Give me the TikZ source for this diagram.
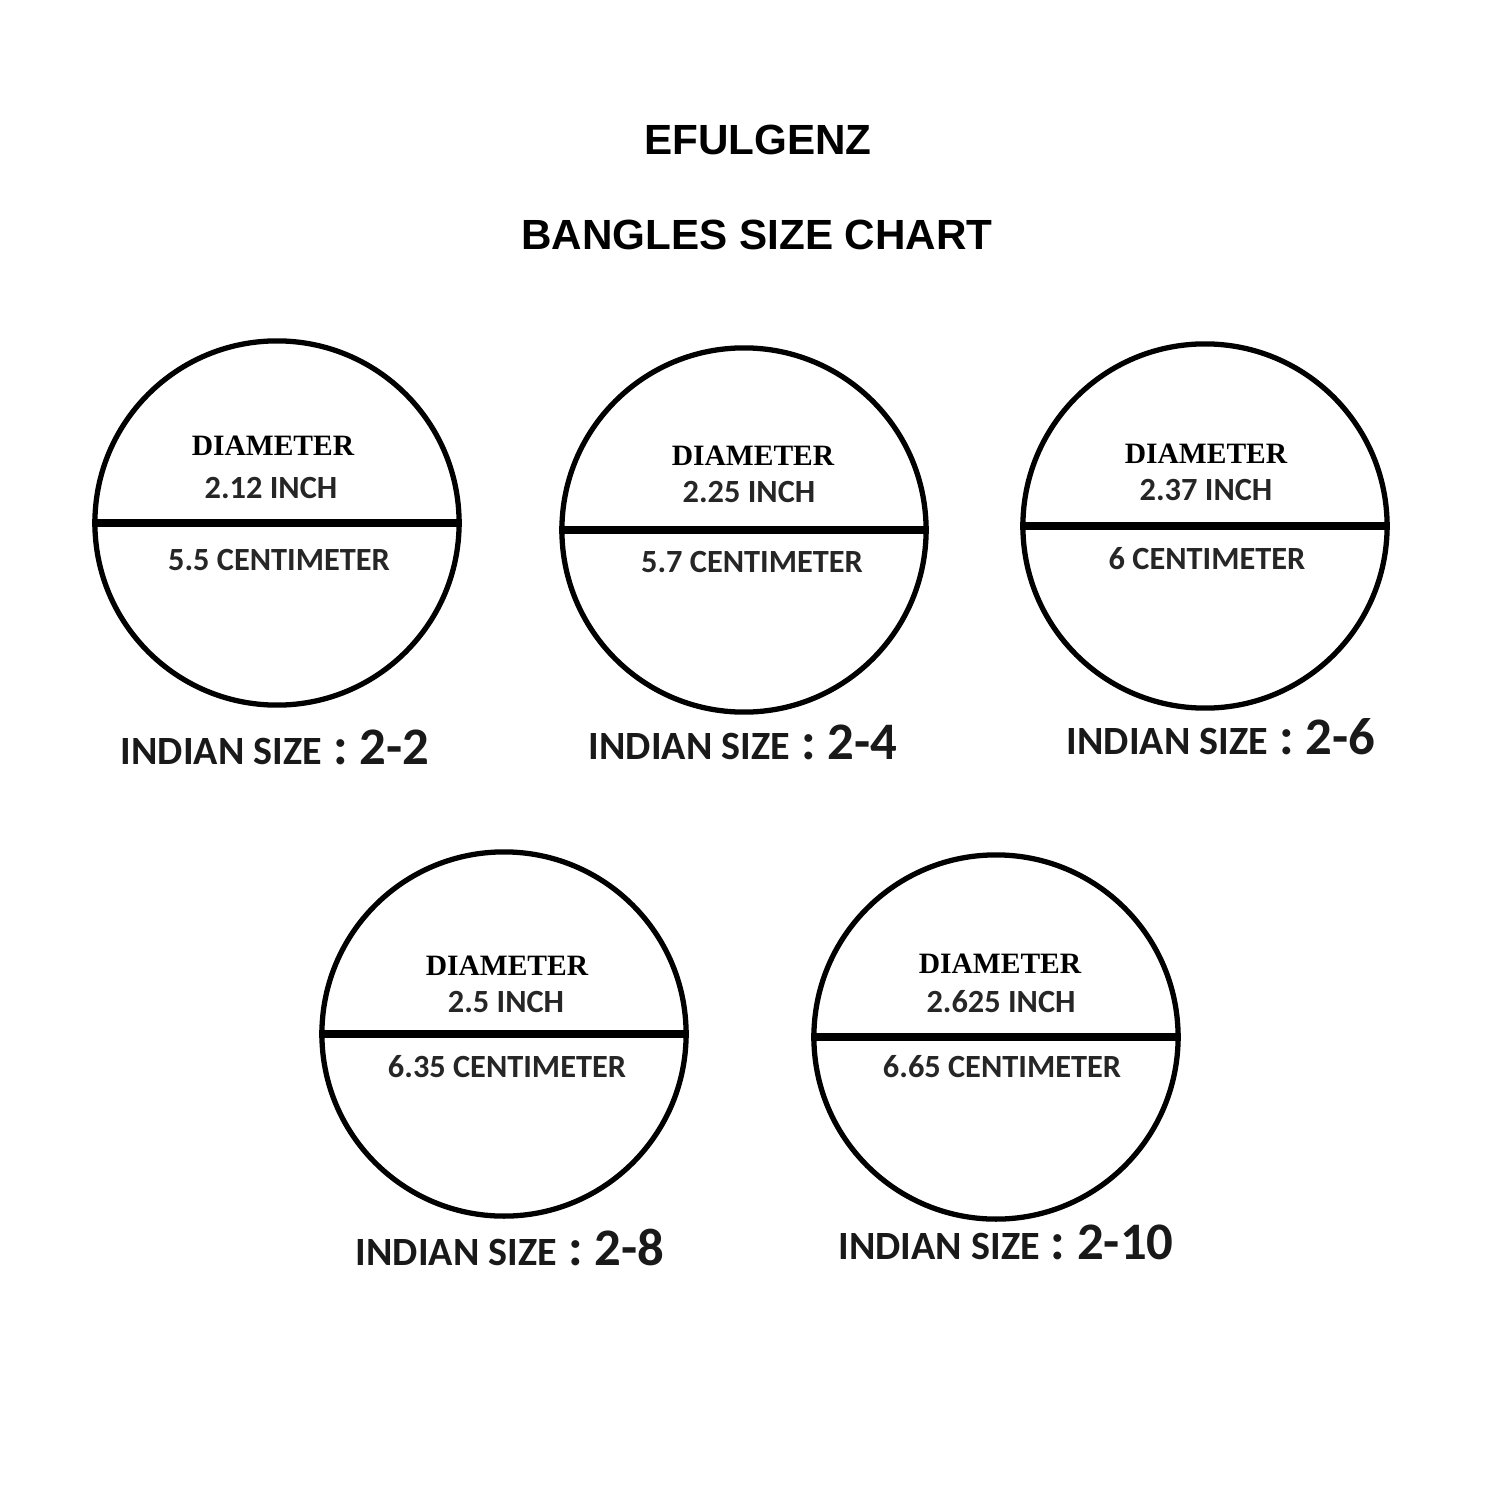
\documentclass[tikz,border=0pt]{standalone}
\usepackage{fontspec}
\setmainfont{Carlito}
\newfontfamily\headfont{Liberation Sans}
\newfontfamily\diafont{Liberation Serif}

\tikzset{
  bangle/.style={draw=black, line width=1.5pt, circle, minimum size=3.64cm, inner sep=0pt},
  divider/.style={draw=black, line width=2pt},
  headtext/.style={font=\headfont\bfseries\fontsize{12}{14}\selectfont},
  diatext/.style={font=\diafont\bfseries\fontsize{8.4}{10}\selectfont},
  valtext/.style={font=\bfseries\fontsize{9.2}{11}\selectfont, text=black!85},
  sizetext/.style={font=\bfseries, text=black!90}
}
\newcommand{\sizelabel}[1]{{\fontsize{11.4}{13}\selectfont INDIAN SIZE}\hspace{1.1mm}{\fontsize{15}{18}\selectfont : #1}}

\begin{document}
\begin{tikzpicture}[x=0.01cm, y=-0.01cm]
    \useasboundingbox (0,0) rectangle (1500,1500);

    \node[headtext] (brand) at (758,140) {EFULGENZ};
    \node[headtext] (title) at (757,235) {BANGLES SIZE CHART};

    % top row
    \node[bangle] (c1) at (277,523) {};
    \draw[divider] (c1.west) -- (c1.east);
    \node[diatext] (d1) at (273,446) {DIAMETER};
    \node[valtext] (i1) at (271,488) {2.12 INCH};
    \node[valtext] (m1) at (279,560) {5.5 CENTIMETER};
    \node[sizetext] (s1) at (275,747) {\sizelabel{2-2}};

    \node[bangle] (c2) at (744,530) {};
    \draw[divider] (c2.west) -- (c2.east);
    \node[diatext] (d2) at (753,456) {DIAMETER};
    \node[valtext] (i2) at (749,492) {2.25 INCH};
    \node[valtext] (m2) at (752,562) {5.7 CENTIMETER};
    \node[sizetext] (s2) at (743,742) {\sizelabel{2-4}};

    \node[bangle] (c3) at (1205,526) {};
    \draw[divider] (c3.west) -- (c3.east);
    \node[diatext] (d3) at (1206,454) {DIAMETER};
    \node[valtext] (i3) at (1206,490) {2.37 INCH};
    \node[valtext] (m3) at (1207,559) {6 CENTIMETER};
    \node[sizetext] (s3) at (1221,737) {\sizelabel{2-6}};

    % bottom row
    \node[bangle] (c4) at (504,1034) {};
    \draw[divider] (c4.west) -- (c4.east);
    \node[diatext] (d4) at (507,966) {DIAMETER};
    \node[valtext] (i4) at (506,1002) {2.5 INCH};
    \node[valtext] (m4) at (507,1067) {6.35 CENTIMETER};
    \node[sizetext] (s4) at (510,1247) {\sizelabel{2-8}};

    \node[bangle] (c5) at (996,1037) {};
    \draw[divider] (c5.west) -- (c5.east);
    \node[diatext] (d5) at (1000,964) {DIAMETER};
    \node[valtext] (i5) at (1001,1002) {2.625 INCH};
    \node[valtext] (m5) at (1002,1067) {6.65 CENTIMETER};
    \node[sizetext] (s5) at (1006,1242) {\sizelabel{2-10}};
\end{tikzpicture}
\end{document}
